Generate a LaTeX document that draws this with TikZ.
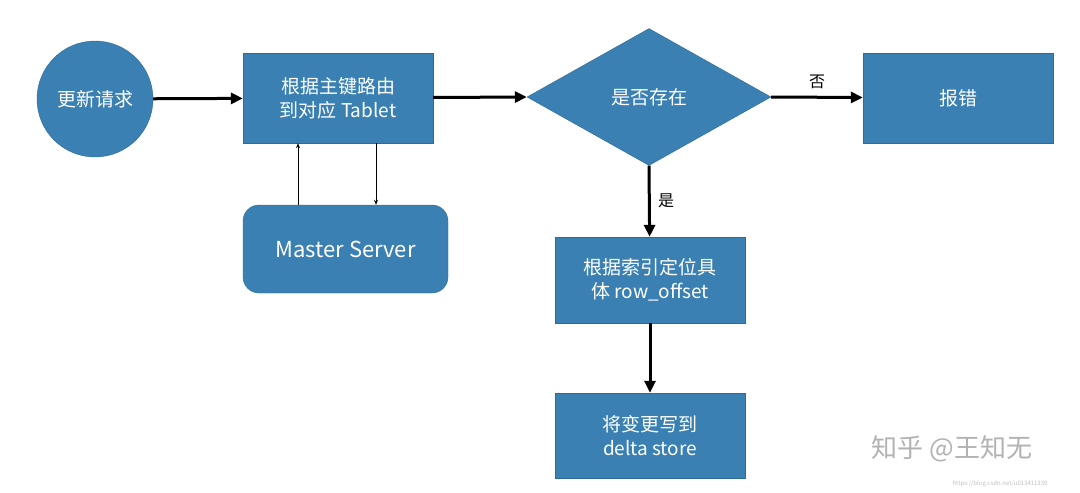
\documentclass[tikz,border=0pt]{standalone}
\usepackage{fontspec}
\setmainfont{Noto Sans CJK SC}
\usetikzlibrary{shapes.geometric,arrows.meta}
\definecolor{bx}{HTML}{3A80B2}
\definecolor{bd}{HTML}{2E6C98}
\begin{document}
\begin{tikzpicture}[x=1pt,y=-1pt,
  box/.style={draw=bd,fill=bx,text=white,font=\fontsize{19}{24}\selectfont,align=center,inner sep=0pt},
  arr/.style={-{Triangle[length=12pt,width=11pt]},line width=3pt},
  thin/.style={-{Stealth[length=5pt,width=4pt]},line width=0.8pt}]
\useasboundingbox (0,0) rectangle (1080,493);
\node[box,circle,minimum size=116pt] (req) at (95,99) {更新请求};
\node[box,minimum width=190pt,minimum height=90pt] (route) at (338,98) {根据主键路由\\到对应 Tablet};
\node[box,rounded corners=16pt,minimum width=205pt,minimum height=88pt,font=\fontsize{22}{26}\selectfont] (ms) at (345.5,249) {Master Server};
\node[box,diamond,aspect=1.78,minimum width=244pt,minimum height=137pt] (ex) at (649,97) {是否存在};
\node[box,minimum width=190pt,minimum height=90pt] (err) at (958,98) {报错};
\node[box,minimum width=190pt,minimum height=86pt] (loc) at (650,280) {根据索引定位具\\体 row\_offset};
\node[box,minimum width=190pt,minimum height=85pt] (wr) at (650,435.5) {将变更写到\\delta store};
\draw[arr] (req) -- (route);
\draw[arr] (route) -- (ex.west);
\draw[arr] (ex.east) -- node[above=4pt,font=\fontsize{16}{18}\selectfont]{否} (err);
\draw[arr] (ex.south) -- node[right=4pt,font=\fontsize{16}{18}\selectfont]{是} (loc);
\draw[arr] (loc) -- (wr);
\draw[thin] (ms.north -| 298,0) -- (route.south -| 298,0);
\draw[thin] (route.south -| 376,0) -- (ms.north -| 376,0);
\node[text=gray!60,font=\fontsize{26}{30}\selectfont] (wm) at (952,449) {知乎 @王知无};
\node[text=gray!50,font=\fontsize{6}{7}\selectfont] (url) at (1000,484) {https://blog.csdn.net/u013411339};
\end{tikzpicture}
\end{document}
